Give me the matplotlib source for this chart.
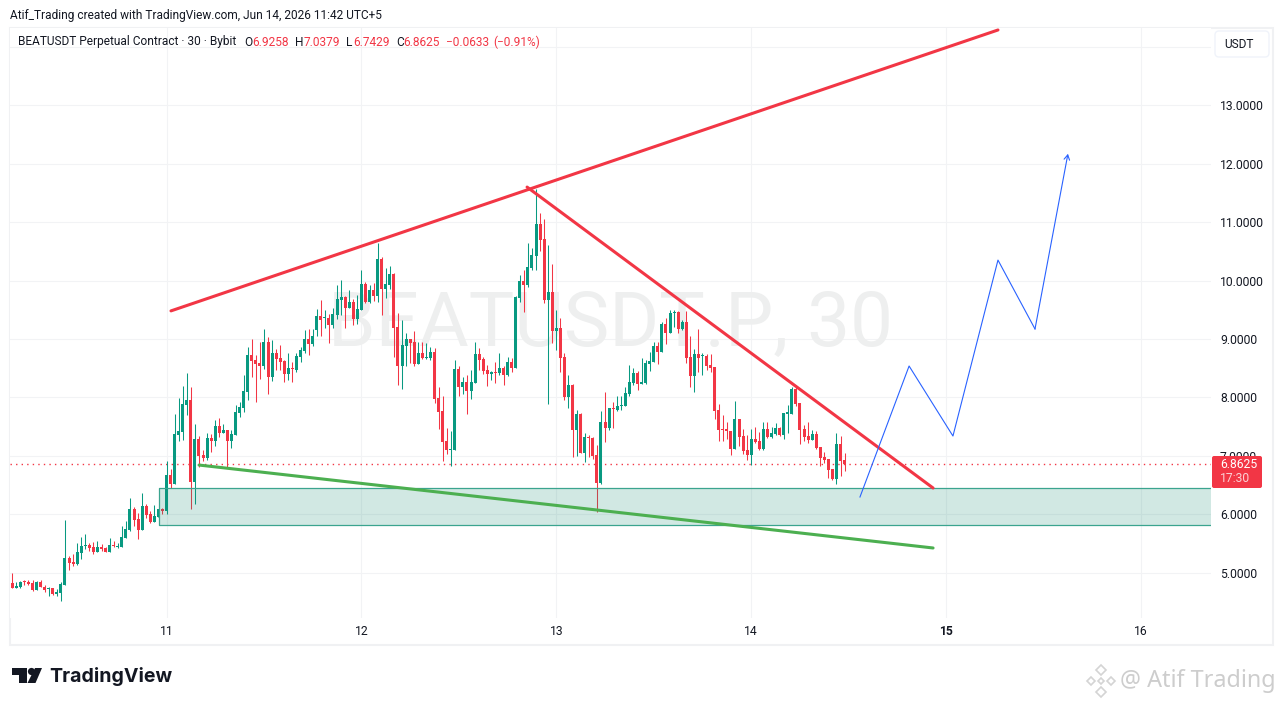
import numpy as np
import matplotlib
matplotlib.use("Agg")
import matplotlib.pyplot as plt
from matplotlib.patches import Rectangle, FancyBboxPatch, Polygon, Circle
from matplotlib.transforms import IdentityTransform

plt.rcParams["font.family"] = ["Roboto", "DejaVu Sans"]

W, H = 1283, 706

# =========================
# CANDLES (30 min, first one = Jun 10 04:30)
# =========================
opens = [
    4.75, 4.82, 4.74, 4.75, 4.85, 4.83, 4.82, 4.70, 4.84, 4.76,
    4.72, 4.74, 4.63, 4.65, 4.79, 5.25, 5.18, 5.15, 5.33, 5.45,
    5.47, 5.44, 5.35, 5.44, 5.42, 5.35, 5.47, 5.44, 5.44, 5.59,
    5.73, 6.09, 5.92, 5.73, 6.14, 6.00, 5.86, 5.95, 6.09, 6.05,
    6.67, 6.52, 7.36, 7.41, 7.87, 7.96, 6.55, 7.29, 7.01, 6.96,
    7.30, 7.25, 7.51, 7.39, 7.44, 7.25, 7.36, 7.73, 7.82, 8.09,
    8.72, 8.64, 8.59, 8.54, 8.95, 8.35, 8.76, 8.67, 8.62, 8.40,
    8.50, 8.47, 8.69, 8.79, 9.00, 8.91, 9.15, 9.39, 9.35, 9.36,
    9.24, 9.41, 9.67, 9.72, 9.53, 9.63, 9.34, 9.50, 9.94, 9.63,
    9.84, 9.73, 10.37, 9.85, 9.92, 10.11, 9.20, 8.54, 8.88, 9.00,
    8.95, 8.57, 8.76, 8.67, 8.67, 8.78, 7.99, 7.77, 7.25, 7.10,
    7.10, 8.48, 8.18, 8.26, 8.11, 8.24, 8.74, 8.66, 8.47, 8.40,
    8.43, 8.42, 8.50, 8.38, 8.60, 8.50, 9.70, 9.99, 9.92, 10.21,
    10.42, 10.97, 10.71, 9.67, 9.80, 9.14, 9.19, 8.69, 8.00, 8.21,
    7.44, 7.71, 7.05, 7.32, 7.30, 7.01, 6.53, 7.58, 7.47, 7.82,
    7.78, 7.85, 7.85, 8.06, 8.24, 8.42, 8.23, 8.24, 8.57, 8.60,
    8.88, 8.78, 9.26, 9.10, 9.44, 9.46, 9.17, 9.29, 8.69, 8.36,
    8.74, 8.70, 8.71, 8.55, 8.52, 7.78, 7.46, 7.44, 7.42, 7.11,
    7.63, 7.34, 7.10, 7.01, 7.29, 7.25, 7.11, 7.46, 7.32, 7.37,
    7.47, 7.35, 7.72, 7.71, 8.14, 7.90, 7.46, 7.34, 7.27, 7.37,
    7.15, 6.98, 6.94, 6.77, 6.60, 7.20, 6.9258,
]
closes = [
    4.82, 4.74, 4.77, 4.84, 4.83, 4.80, 4.70, 4.84, 4.75, 4.70,
    4.74, 4.63, 4.67, 4.80, 5.25, 5.16, 5.15, 5.35, 5.45, 5.47,
    5.42, 5.35, 5.44, 5.40, 5.35, 5.47, 5.45, 5.45, 5.61, 5.75,
    6.09, 5.90, 5.73, 6.14, 5.99, 5.86, 5.97, 6.09, 6.05, 6.67,
    6.52, 7.37, 7.42, 7.89, 7.96, 6.55, 7.29, 7.00, 6.96, 7.30,
    7.25, 7.51, 7.39, 7.44, 7.25, 7.37, 7.75, 7.84, 8.11, 8.72,
    8.62, 8.57, 8.54, 8.95, 8.35, 8.76, 8.66, 8.60, 8.40, 8.50,
    8.48, 8.71, 8.81, 9.00, 8.91, 9.05, 9.39, 9.32, 9.36, 9.24,
    9.43, 9.68, 9.72, 9.53, 9.63, 9.34, 9.51, 9.94, 9.63, 9.84,
    9.73, 10.37, 9.85, 9.94, 10.11, 9.19, 8.54, 8.90, 9.00, 8.93,
    8.57, 8.76, 8.67, 8.69, 8.78, 7.97, 7.75, 7.23, 7.10, 7.12,
    8.48, 8.18, 8.26, 8.11, 8.26, 8.74, 8.64, 8.45, 8.40, 8.43,
    8.42, 8.50, 8.38, 8.60, 8.50, 9.72, 9.99, 9.92, 10.23, 10.44,
    10.97, 10.69, 9.67, 9.80, 9.14, 9.19, 8.67, 8.00, 8.21, 7.44,
    7.71, 7.05, 7.32, 7.30, 6.99, 6.53, 7.58, 7.47, 7.82, 7.80,
    7.85, 7.87, 8.07, 8.26, 8.42, 8.23, 8.26, 8.59, 8.62, 8.88,
    8.78, 9.26, 9.10, 9.44, 9.46, 9.17, 9.29, 8.67, 8.36, 8.74,
    8.67, 8.71, 8.54, 8.50, 7.76, 7.44, 7.44, 7.43, 7.11, 7.63,
    7.32, 7.08, 7.01, 7.29, 7.23, 7.11, 7.46, 7.32, 7.39, 7.47,
    7.35, 7.73, 7.73, 8.14, 7.88, 7.44, 7.32, 7.27, 7.37, 7.13,
    6.96, 6.93, 6.75, 6.60, 7.20, 6.91, 6.8625,
]
highs = [
    4.82, 4.99, 4.83, 4.86, 4.87, 4.87, 4.87, 4.86, 4.87, 4.79,
    4.75, 4.74, 4.72, 4.84, 5.90, 5.29, 5.31, 5.50, 5.61, 5.66,
    5.50, 5.52, 5.54, 5.49, 5.44, 5.59, 5.54, 5.50, 5.80, 5.88,
    6.28, 6.12, 6.02, 6.36, 6.17, 6.05, 6.16, 6.09, 6.11, 6.91,
    6.77, 7.72, 7.99, 8.19, 8.42, 8.18, 7.54, 7.34, 7.10, 7.39,
    7.37, 7.61, 7.65, 7.54, 7.44, 7.44, 7.87, 7.92, 8.38, 8.87,
    9.00, 8.72, 8.95, 9.17, 9.03, 8.98, 8.83, 8.90, 8.64, 8.76,
    8.60, 8.76, 8.86, 9.15, 9.17, 9.17, 9.51, 9.67, 9.50, 9.43,
    9.53, 9.92, 10.01, 9.73, 9.84, 9.68, 9.75, 10.18, 9.97, 9.92,
    9.96, 10.64, 10.40, 10.21, 10.25, 10.13, 9.44, 9.32, 9.10, 9.00,
    9.14, 8.95, 8.95, 8.93, 8.86, 8.84, 8.18, 8.02, 7.47, 7.42,
    8.64, 8.54, 8.35, 8.38, 8.47, 8.95, 8.84, 8.69, 8.55, 8.45,
    8.60, 8.76, 8.54, 8.69, 8.67, 9.73, 10.09, 10.18, 10.64, 10.56,
    11.57, 11.16, 11.05, 10.61, 10.28, 9.50, 9.36, 8.76, 8.38, 8.23,
    7.78, 7.73, 7.39, 7.35, 7.32, 7.18, 7.76, 8.09, 7.82, 7.92,
    8.02, 8.02, 8.18, 8.55, 8.50, 8.45, 8.67, 8.64, 8.78, 8.95,
    8.95, 9.29, 9.36, 9.49, 9.49, 9.48, 9.32, 9.48, 9.05, 8.83,
    9.17, 8.76, 8.74, 8.74, 8.52, 7.89, 7.70, 7.58, 7.42, 7.94,
    7.63, 7.46, 7.35, 7.46, 7.49, 7.40, 7.58, 7.58, 7.49, 7.56,
    7.49, 7.73, 7.87, 8.18, 8.19, 7.90, 7.52, 7.58, 7.44, 7.42,
    7.15, 7.06, 6.94, 6.77, 7.39, 7.34, 7.0379,
]
lows = [
    4.75, 4.74, 4.74, 4.74, 4.79, 4.79, 4.68, 4.70, 4.75, 4.67,
    4.60, 4.62, 4.60, 4.51, 4.79, 5.04, 5.11, 5.13, 5.23, 5.40,
    5.37, 5.32, 5.35, 5.37, 5.35, 5.35, 5.44, 5.42, 5.44, 5.59,
    5.71, 5.80, 5.57, 5.73, 5.93, 5.85, 5.86, 5.95, 6.00, 6.00,
    6.45, 6.52, 7.25, 7.27, 7.70, 6.09, 6.17, 6.81, 6.91, 6.93,
    7.06, 7.17, 7.32, 7.39, 6.81, 7.13, 7.36, 7.66, 7.75, 7.95,
    8.35, 7.92, 8.31, 8.48, 8.06, 8.28, 8.47, 8.47, 8.26, 8.30,
    8.26, 8.43, 8.60, 8.76, 8.72, 8.88, 9.05, 9.05, 9.19, 8.93,
    9.19, 9.34, 9.41, 9.19, 9.53, 9.24, 9.25, 9.50, 9.61, 9.61,
    9.65, 9.63, 9.41, 9.70, 9.85, 8.69, 8.21, 8.14, 8.54, 8.59,
    8.54, 8.57, 8.66, 8.66, 8.64, 7.90, 7.46, 6.91, 7.03, 6.82,
    7.10, 8.02, 8.06, 7.71, 7.97, 8.24, 8.47, 8.40, 8.19, 8.30,
    8.24, 8.38, 8.21, 8.37, 8.43, 8.50, 9.63, 9.46, 9.89, 10.18,
    10.18, 10.50, 9.61, 7.88, 8.93, 8.81, 8.43, 7.95, 7.82, 6.98,
    6.99, 7.05, 6.89, 6.98, 6.94, 6.04, 6.52, 7.23, 7.44, 7.47,
    7.77, 7.78, 7.85, 8.02, 8.21, 8.12, 8.23, 8.23, 8.45, 8.60,
    8.57, 8.78, 8.91, 9.10, 9.20, 9.10, 9.15, 8.59, 8.18, 8.09,
    8.43, 8.39, 8.47, 8.43, 7.63, 7.25, 7.25, 7.29, 7.01, 7.11,
    7.17, 7.03, 6.93, 6.84, 7.22, 7.10, 7.10, 7.30, 7.30, 7.35,
    7.34, 7.29, 7.39, 7.71, 7.85, 7.20, 7.25, 7.22, 7.27, 7.11,
    6.82, 6.87, 6.62, 6.58, 6.51, 6.65, 6.7429,
]

# =========================
# DRAWINGS (day of month, price)
# =========================
upper_line_x = [11.023, 15.266]
upper_line_y = [9.48, 14.29]
falling_line_x = [12.85, 14.933]
falling_line_y = [11.60, 6.447]
support_line_x = [11.167, 14.933]
support_line_y = [6.84, 5.42]
zone_left, zone_top, zone_bottom = 10.96, 6.44, 5.805
path_x = [14.558, 14.810, 15.035, 15.266, 15.456, 15.625]
path_y = [6.293, 8.536, 7.337, 10.35, 9.17, 12.17]

last_price = 6.8625
price_ticks = [5, 6, 7, 8, 9, 10, 11, 12, 13, 14]
price_labels = ["5.0000", "6.0000", "7.0000", "8.0000", "9.0000", "10.0000",
                "11.0000", "12.0000", "13.0000", ""]
day_ticks = [11, 12, 13, 14, 15, 16]

GREEN = "#089981"
RED = "#f23645"
TEXT = "#131722"
GRID = "#f2f3f5"
BORDER = "#f0f1f3"

days = 10.1875 + np.arange(len(opens)) / 48
o = np.array(opens)
c = np.array(closes)
up = c >= o
colors = np.where(up, GREEN, RED)

fig = plt.figure(figsize=(W / 100, H / 100), dpi=100)
ax = fig.add_axes([10 / W, (H - 618) / H, 1201 / W, 590 / H])
ax.set_xlim(10.197, 16.359)
ax.set_ylim(4.221, 14.324)
for s in ax.spines.values():
    s.set_visible(False)

ax.yaxis.tick_right()
ax.set_yticks(price_ticks)
ax.set_yticklabels(price_labels, fontsize=8.7, color=TEXT)
ax.set_xticks(day_ticks)
ax.set_xticklabels([str(d) for d in day_ticks], fontsize=8.7, color=TEXT)
ax.get_xticklabels()[4].set_fontweight("bold")
ax.tick_params(axis="y", length=0, pad=6.5)
ax.tick_params(axis="x", length=0, pad=5)
ax.grid(True, color=GRID, lw=0.8)
ax.set_axisbelow(True)

ax.text(0.5, 0.495, "BEATUSDT.P, 30", transform=ax.transAxes, ha="center", va="center",
        fontsize=55, color="#eeefef", zorder=1)

# candles
ax.vlines(days, lows, highs, colors=colors, lw=0.75, zorder=3)
ax.bar(days, np.maximum(np.abs(c - o), 0.02), bottom=np.minimum(o, c), width=0.0154,
       color=colors, lw=0, zorder=3)

# last price line
ax.axhline(last_price, color=RED, lw=1, dashes=(1, 3), zorder=2)

# drawings
ax.add_patch(Rectangle((zone_left, zone_bottom), 16.359 - zone_left, zone_top - zone_bottom,
                       facecolor="#198c73", alpha=0.2, lw=0, zorder=4))
ax.plot([16.359, zone_left, zone_left, 16.359],
        [zone_top, zone_top, zone_bottom, zone_bottom],
        color="#3ba48f", lw=0.9, zorder=4)
ax.plot(support_line_x, support_line_y, color="#4caf50", lw=2.2, zorder=5, solid_capstyle="round")
ax.plot(upper_line_x, upper_line_y, color=RED, lw=2.2, zorder=5, solid_capstyle="round")
ax.plot(falling_line_x, falling_line_y, color=RED, lw=2.2, zorder=5, solid_capstyle="round")
ax.plot(path_x[:-1], path_y[:-1], color="#2962ff", lw=0.8, zorder=5)
ax.annotate("", xy=(path_x[-1], path_y[-1]), xytext=(path_x[-2], path_y[-2]),
            arrowprops=dict(arrowstyle="->,head_length=0.35,head_width=0.2", color="#2962ff", lw=0.8,
                            shrinkA=0, shrinkB=0), zorder=5)


# everything outside the pane is placed in image pixels
def px(x, y):
    return x / W, 1 - y / H


def label(x, y, s, **kw):
    kw.setdefault("fontsize", 8.55)
    kw.setdefault("color", TEXT)
    kw.setdefault("va", "center")
    fig.text(*px(x, y), s, **kw)


ident = IdentityTransform()


def box(x0, y0, x1, y1, rad=2, **kw):
    p = FancyBboxPatch((x0 + rad, H - y1 + rad), x1 - x0 - 2 * rad, y1 - y0 - 2 * rad,
                       boxstyle=f"round,pad={rad},rounding_size={rad}", transform=ident, **kw)
    fig.add_artist(p)


# outer frame
fig.add_artist(Rectangle((10, H - 645), 1263, 617, transform=ident, fill=False,
                         edgecolor=BORDER, lw=1.5, zorder=0))

label(10, 15, "Atif_Trading created with TradingView.com, Jun 14, 2026 11:42 UTC+5")
label(18, 42, "BEATUSDT Perpetual Contract · 30 · Bybit")
for x, s, col in [(244, "O", TEXT), (252, "6.9258", RED), (295, "H", TEXT), (303.5, "7.0379", RED),
                  (346, "L", TEXT), (353, "6.7429", RED), (396, "C", TEXT), (403, "6.8625", RED),
                  (446, "\u22120.0633", RED), (493, "(\u22120.91%)", RED)]:
    label(x, 42, s, color=col)

# USDT button
box(1215, 31, 1269, 57, rad=4, facecolor="white", edgecolor="#f0f3fa", lw=1, zorder=6)
label(1238.5, 44, "USDT", ha="center", zorder=7)

# last price tag
box(1212, 456, 1262, 488, rad=2, facecolor=RED, edgecolor="none", zorder=6)
label(1220, 464.5, "6.8625", color="white", fontsize=8.7, zorder=7)
label(1220, 478.5, "17:30", color="#fbd0d4", fontsize=8.7, zorder=7)

# TradingView logo
logo = "#131722"
fig.add_artist(Polygon([(12, H - 668), (27, H - 668), (27, H - 683), (19, H - 683), (19, H - 675), (12, H - 675)],
                       transform=ident, facecolor=logo, lw=0))
fig.add_artist(Circle((31.5, H - 671.5), 3.6, transform=ident, facecolor=logo, lw=0))
fig.add_artist(Polygon([(35, H - 668), (42, H - 668), (35.5, H - 683), (27.5, H - 683)],
                       transform=ident, facecolor=logo, lw=0))
label(49, 676, "TradingView", fontsize=14.1, fontweight="bold", family=["Inter", "DejaVu Sans"])

# Binance style watermark
wm = "#d4d4d4"
for cx, cy, r in [(1101, 670, 5), (1091, 681, 4), (1111, 681, 4), (1101, 692, 5), (1101, 681, 3)]:
    fig.add_artist(Polygon([(cx - r, H - cy), (cx, H - cy + r), (cx + r, H - cy), (cx, H - cy - r)],
                           transform=ident, facecolor="none", edgecolor=wm, lw=1.2))
label(1120, 681, "@ Atif Trading", fontsize=16.8, color="#cdcdcd", family=["Noto Sans", "DejaVu Sans"])

fig.savefig("out.png", dpi=100)
